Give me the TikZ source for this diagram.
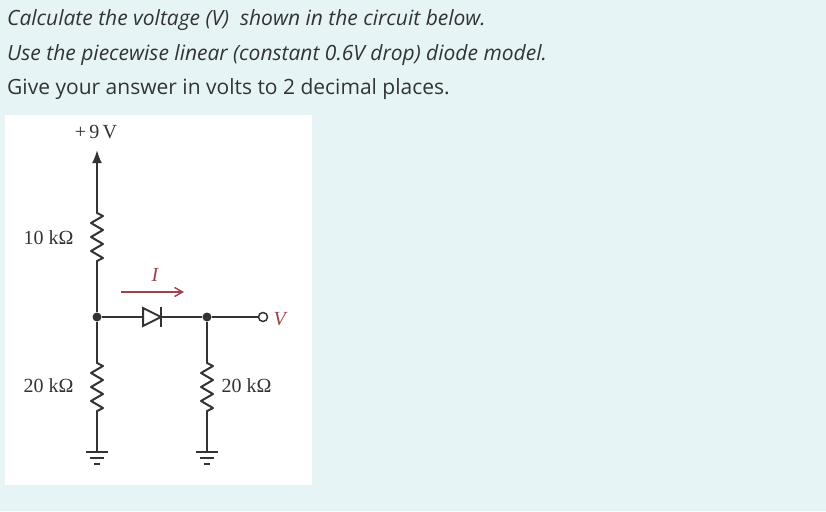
\documentclass[tikz,border=0pt]{standalone}
\usepackage{fontspec}
\setmainfont{Open Sans}
\newfontfamily\circfont{Liberation Serif}
\usetikzlibrary{arrows.meta}
\definecolor{bg}{HTML}{E6F4F5}
\definecolor{wire}{HTML}{333333}
\definecolor{red1}{HTML}{A3404A}
\tikzset{
  wr/.style={draw=wire,line width=2pt},
  dot/.style={circle,fill=wire,inner sep=0pt,minimum size=9pt},
  lab/.style={font=\circfont\fontsize{20}{20}\selectfont,text=wire},
  q/.style={anchor=west,font=\fontsize{21}{24}\selectfont,text=black!80,inner sep=0pt}
}
\begin{document}
\begin{tikzpicture}[x=1pt,y=-1pt]
\fill[bg] (0,0) rectangle (826,511);
\fill[white] (5,115) rectangle (312,485);
\useasboundingbox (0,0) rectangle (826,511);
\node[q] (t1) at (7,20) {\itshape Calculate the voltage (V)\ \ shown in the circuit below.};
\node[q] (t2) at (7,55) {\itshape Use the piecewise linear (constant 0.6V drop) diode model.};
\node[q] (t3) at (7,89) {Give your answer in volts to 2 decimal places.};
% nodes
\coordinate (top) at (97,150);
\node[lab] (p9) at (96,132) {+\,9\,V};
\coordinate (r1a) at (97,212); \coordinate (r1b) at (97,262);
\node[dot] (j1) at (97,317) {};
\coordinate (r2a) at (97,362); \coordinate (r2b) at (97,412);
\coordinate (g1) at (97,452);
\node[dot] (j2) at (207,317) {};
\coordinate (r3a) at (207,362); \coordinate (r3b) at (207,412);
\coordinate (g2) at (207,452);
\node[circle,draw=wire,line width=1.5pt,fill=white,inner sep=0pt,minimum size=9pt] (out) at (263,317) {};
\node[lab,text=red1,anchor=west] (vl) at (270,319) {\itshape V};
\coordinate (da) at (143,317); \coordinate (dk) at (161,317);
% wires
\draw[wr,-{Latex[length=13pt,width=10pt]}] (r1a) -- (top);
\draw[wr] (r1b) -- (j1) -- (r2a);
\draw[wr] (r2b) -- (g1);
\draw[wr] (j1) -- (da); \draw[wr] (dk) -- (j2) -- (out);
\draw[wr] (j2) -- (r3a); \draw[wr] (r3b) -- (g2);
% resistors
\foreach \a/\b in {r1a/r1b,r2a/r2b,r3a/r3b}{
 \draw[wr,line join=round] (\a) -- ++(0,1) -- ++(6,3) -- ++(-12,7) -- ++(12,7) -- ++(-12,7) -- ++(12,7) -- ++(-12,7) -- ++(12,7) -- ++(-6,3) -- (\b);
}
% diode
\draw[wr,fill=white,line join=miter] (da) ++(0,-9) -- ++(0,18) -- (dk) -- cycle;
\draw[wr] (dk) ++(0,-10) -- ++(0,20);
% grounds
\foreach \g in {g1,g2}{
 \draw[wr,line width=2.5pt] (\g) ++(-11,0) -- ++(22,0);
 \draw[wr,line width=2.5pt] (\g) ++(-7,6) -- ++(14,0);
 \draw[wr,line width=2.5pt] (\g) ++(-3,12) -- ++(6,0);
}
% current arrow
\draw[red1,line width=1.4pt,-{Straight Barb[length=8pt,width=9pt]}] (121,292) -- (184,292);
\node[lab,text=red1] (il) at (155,275) {\itshape I};
% labels
\node[lab,anchor=east] (l1) at (77,238) {10 kΩ};
\node[lab,anchor=east] (l2) at (77,386) {20 kΩ};
\node[lab,anchor=west] (l3) at (218,386) {20 kΩ};
\end{tikzpicture}
\end{document}
